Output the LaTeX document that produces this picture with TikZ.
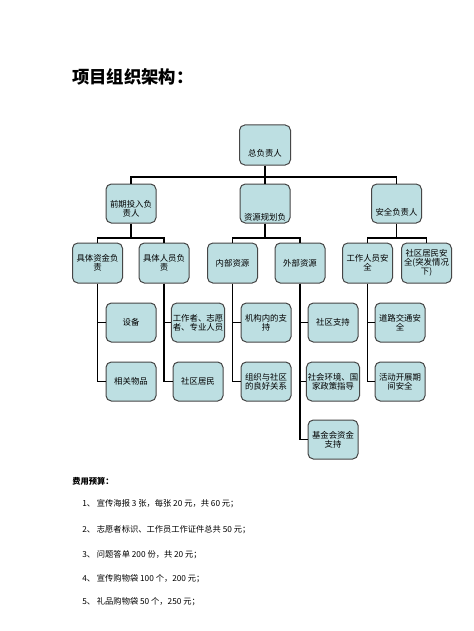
\documentclass[tikz,border=0pt]{standalone}
\usepackage{fontspec}
\setmainfont{Noto Sans CJK SC}
\definecolor{boxfill}{RGB}{189,223,226}
\definecolor{boxline}{RGB}{70,70,70}
\begin{document}
\begin{tikzpicture}[x=0.75pt,y=-0.75pt,
  box/.style={draw=boxline, fill=boxfill, rounded corners=4pt, line width=0.75pt,
    minimum width=37.5pt, minimum height=29.25pt, inner sep=1pt, align=center,
    font=\fontsize{6.3pt}{6.9pt}\selectfont},
  conn/.style={line width=1.1pt, draw=black},
  txt/.style={font=\fontsize{6.3pt}{6.9pt}\selectfont, inner sep=0pt, align=center},
  ltxt/.style={font=\fontsize{6.2pt}{7pt}\selectfont, inner sep=0pt, anchor=west}]
\useasboundingbox (0,0) rectangle (474,631);
\fill[white] (0,0) rectangle (474,631);

% title
\node[anchor=west, inner sep=0pt, font=\fontsize{13pt}{15pt}\selectfont\bfseries] (title) at (72,77) {项目组织架构：};

% junctions
\coordinate (j0) at (265,177);
\coordinate (j1) at (131,238);
\coordinate (j2) at (265,238);
\coordinate (j3) at (396.5,238);

% level 1
\node[box, minimum width=38.25pt, minimum height=30pt] (tot) at (265,145) {};
\node[txt] (totT) at (265,153) {总负责人};

% level 2
\node[box] (qq) at (131,203.5) {};
\node[txt] (qqT) at (131,209) {前期投入负\\责人};
\node[box] (zy) at (265,203.5) {};
\node[txt] (zyT) at (265,217) {资源规划负};
\node[box] (aq) at (396.5,203.5) {};
\node[txt] (aqT) at (396.5,212) {安全负责人};

% level 3
\node[box, minimum height=30pt] (zj) at (97.5,263) {具体资金负\\责};
\node[box, minimum height=30pt] (ry) at (164,263) {具体人员负\\责};
\node[box, minimum height=30pt] (nb) at (232.5,263) {内部资源};
\node[box, minimum height=30pt] (wb) at (300,263) {外部资源};
\node[box, minimum height=30pt] (gz) at (367.5,263) {工作人员安\\全};
\node[box, minimum height=30pt] (sq) at (426.5,263) {社区居民安\\全(突发情况\\下)};

% level 4
\node[box] (sb) at (131,322.5) {设备};
\node[box] (xg) at (131,381.5) {相关物品};
\node[box] (gzz) at (198,322.5) {工作者、志愿\\者、专业人员};
\node[box] (sqm) at (198,381.5) {社区居民};
\node[box] (jg) at (266,322.5) {机构内的支\\持};
\node[box] (zz) at (266,381.5) {组织与社区\\的良好关系};
\node[box] (sqz) at (333,322.5) {社区支持};
\node[box] (shj) at (333,381.5) {社会环境、国\\家政策指导};
\node[box] (jjh) at (333,439.5) {基金会资金\\支持};
\node[box] (dl) at (400,322.5) {道路交通安\\全};
\node[box] (hd) at (400,381.5) {活动开展期\\间安全};

% connectors
\draw[conn] (tot.south) -- (j0);
\draw[conn] (qq.north) |- (j0) -| (aq.north);
\draw[conn] (j0) -- (zy.north);

\draw[conn] (qq.south) -- (j1);
\draw[conn] (zj.north) |- (j1) -| (ry.north);
\draw[conn] (zy.south) -- (j2);
\draw[conn] (nb.north) |- (j2) -| (wb.north);
\draw[conn] (aq.south) -- (j3);
\draw[conn] (gz.north) |- (j3) -| (sq.north);

\draw[conn] (zj.south) |- (sb.west);
\draw[conn] (zj.south) |- (xg.west);
\draw[conn] (ry.south) |- (gzz.west);
\draw[conn] (ry.south) |- (sqm.west);
\draw[conn] (nb.south) |- (jg.west);
\draw[conn] (nb.south) |- (zz.west);
\draw[conn] (wb.south) |- (sqz.west);
\draw[conn] (wb.south) |- (shj.west);
\draw[conn] (wb.south) |- (jjh.west);
\draw[conn] (gz.south) |- (dl.west);
\draw[conn] (gz.south) |- (hd.west);

% budget
\node[ltxt, font=\fontsize{6.2pt}{7pt}\selectfont\bfseries] (bt) at (72,481) {费用预算：};
\node[ltxt] (b1) at (82,504) {1、 宣传海报 3 张，每张 20 元，共 60 元；};
\node[ltxt] (b2) at (82,530) {2、 志愿者标识、工作员工作证件总共 50 元；};
\node[ltxt] (b3) at (82,555) {3、 问题答单 200 份，共 20 元；};
\node[ltxt] (b4) at (82,579) {4、 宣传购物袋 100 个，200 元；};
\node[ltxt] (b5) at (82,602) {5、 礼品购物袋 50 个，250 元；};
\end{tikzpicture}
\end{document}
